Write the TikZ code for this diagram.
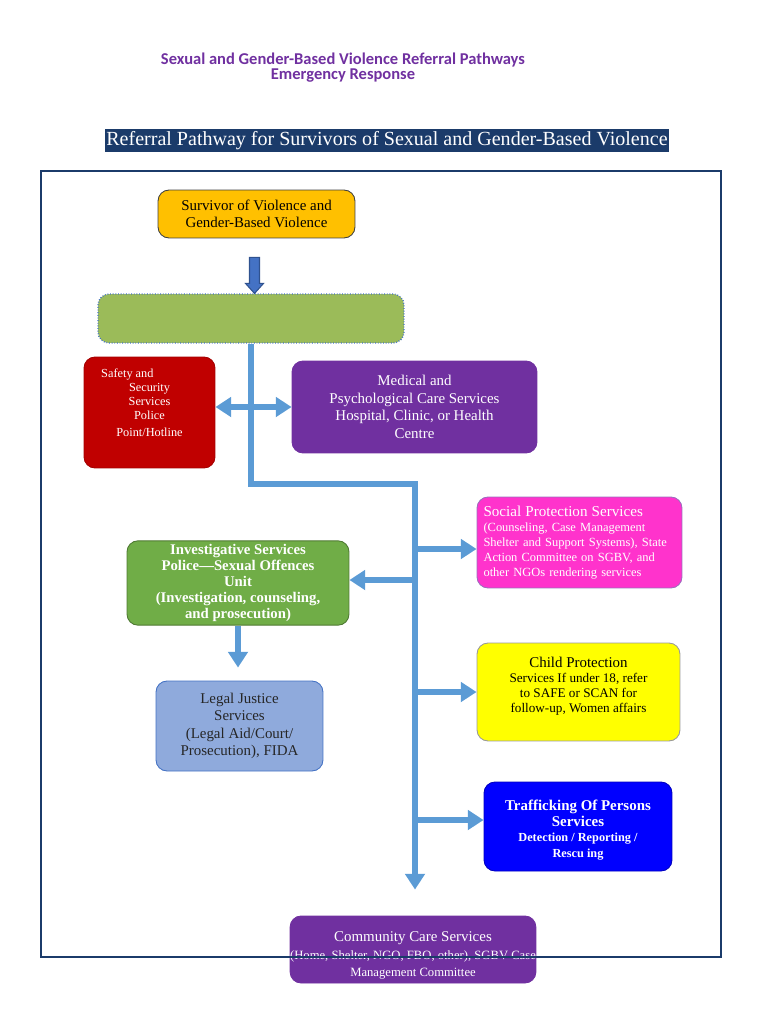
\documentclass[tikz,border=0pt]{standalone}
\usepackage{fontspec}
\setmainfont{Liberation Serif}
\newfontfamily\headfont{Carlito}
\usetikzlibrary{arrows.meta}
\usetikzlibrary{positioning}

\definecolor{navy}{HTML}{1B3B6A}
\definecolor{headpurple}{HTML}{7030A0}
\definecolor{spineblue}{HTML}{5B9BD5}
\definecolor{arrowblue}{HTML}{4472C4}
\definecolor{arrowedge}{HTML}{2F528F}
\definecolor{hubgreen}{HTML}{9BBB59}
\definecolor{survivororange}{HTML}{FFC000}
\definecolor{safetyred}{HTML}{C00000}
\definecolor{carepurple}{HTML}{7030A0}
\definecolor{socialpink}{HTML}{FF33CC}
\definecolor{investgreen}{HTML}{70AD47}
\definecolor{legalblue}{HTML}{8FAADC}
\definecolor{childyellow}{HTML}{FFFF00}
\definecolor{trafficblue}{HTML}{0000FF}

\begin{document}
\begin{tikzpicture}[x=0.02cm,y=-0.02cm,
    box/.style={rounded corners=0.22cm, align=center, inner sep=2pt, line width=0.5pt},
    spine/.style={draw=spineblue, line width=3.6pt},
    tip/.style={-{Triangle[length=9pt,width=11pt]}},
  ]
    \useasboundingbox (0,0) rectangle (768,1024);

    \node[text=headpurple, font=\headfont\bfseries\fontsize{9.4}{8.6}\selectfont, align=center] (head) at (343,68)
        {Sexual and Gender-Based Violence Referral Pathways\\Emergency Response};
    \node[fill=navy, text=white, minimum width=11.28cm, minimum height=0.46cm, inner sep=0pt,
        font=\fontsize{11.4}{12}\selectfont] (banner) at (387,140.5)
        {Referral Pathway for Survivors of Sexual and Gender-Based Violence};

    \node[box, fill=survivororange, draw=black!75, minimum width=3.94cm, minimum height=0.96cm,
        font=\fontsize{8.5}{10}\selectfont] (survivor) at (256.5,214)
        {Survivor of Violence and\\Gender-Based Violence};
    \coordinate (down) at ([xshift=-0.04cm,yshift=-0.38cm]survivor.south);
    \filldraw[fill=arrowblue, draw=arrowedge, line width=0.6pt, shift={(down)}]
        (-5,0) -- (5,0) -- (5,26) -- (9,26) -- (0,36) -- (-9,26) -- (-5,26) -- cycle;
    \node[box, fill=hubgreen, draw=arrowblue, densely dotted, line width=0.8pt,
        minimum width=6.12cm, minimum height=0.98cm] (hub) at (251,318.5) {};

    \node[box, fill=safetyred, draw=safetyred!85!black, text=white, minimum width=2.62cm, minimum height=2.22cm,
        font=\fontsize{7}{8}\selectfont] (safety) at (149.5,412.5)
        {\hspace*{-3.6em}Safety and\\Security\\Services\\Police\\[1.5pt]Point/Hotline\\[3.4pt]\mbox{}};
    \node[box, fill=carepurple, draw=carepurple, text=white, minimum width=4.9cm, minimum height=1.84cm,
        font=\fontsize{8.5}{10}\selectfont] (medical) at (414.5,407)
        {Medical and\\Psychological Care Services\\Hospital, Clinic, or Health\\Centre};

    \node[box, fill=socialpink, draw=headpurple!70, text=white, minimum width=4.1cm, minimum height=1.82cm,
        text width=3.84cm, align=left, font=\fontsize{7.1}{8.5}\selectfont] (social) at (579.5,542.5)
        {\makebox[\linewidth][s]{\fontsize{8.6}{8.6}\selectfont Social Protection Services}\\
         \makebox[\linewidth][s]{(Counseling, Case Management}\\
         \makebox[\linewidth][s]{Shelter and Support Systems), State}\\
         \makebox[\linewidth][s]{Action Committee on SGBV, and}\\
         other NGOs rendering services};
    \node[box, fill=investgreen, draw=investgreen!70!black, text=white, minimum width=4.44cm, minimum height=1.68cm,
        font=\bfseries\fontsize{8.4}{9.1}\selectfont] (investig) at (238,583)
        {Investigative Services\\Police---Sexual Offences\\Unit\\(Investigation, counseling,\\and prosecution)};
    \node[box, fill=legalblue, draw=arrowblue, text=black!85, minimum width=3.34cm, minimum height=1.8cm,
        font=\fontsize{8.5}{10}\selectfont] (legal) at (239.5,726)
        {Legal Justice\\Services\\(Legal Aid/Court/\\Prosecution), FIDA};
    \node[box, fill=childyellow, draw=black!40, minimum width=4.06cm, minimum height=1.96cm,
        font=\fontsize{7.5}{8.5}\selectfont] (child) at (578.5,692)
        {{\fontsize{8.5}{10}\selectfont Child Protection}\\Services If under 18, refer\\to SAFE or SCAN for\\follow-up, Women affairs\\\mbox{}};
    \node[box, fill=trafficblue, draw=trafficblue!75!black, text=white, minimum width=3.76cm, minimum height=1.78cm,
        font=\bfseries\fontsize{7}{9}\selectfont] (traffic) at (578,826.5)
        {\mbox{}\\[1pt]{\fontsize{8.5}{9.5}\selectfont Trafficking Of Persons}\\{\fontsize{8.5}{9.5}\selectfont Services}\\Detection / Reporting /\\Rescu ing};
    \node[box, fill=carepurple, draw=carepurple, text=white, minimum width=4.88cm, minimum height=1.34cm,
        inner xsep=0pt, inner ysep=0pt, font=\fontsize{7.2}{9.6}\selectfont] (community) at (413,949.5)
        {\mbox{}\\[3pt]{\fontsize{8.5}{10}\selectfont Community Care Services}\\[0.8pt](Home, Shelter, NGO, FBO, other), SGBV Case\\Management Committee};

    \draw[navy, line width=1.1pt] (41,171) rectangle (721,957);

    \coordinate (turn) at (415,484);
    \coordinate (b1) at (415,549);
    \coordinate (b2) at (415,580);
    \coordinate (b3) at (415,692);
    \coordinate (b4) at (415,820);
    \draw[spine, tip] (hub.south) |- (turn) -- ([yshift=0.52cm]turn |- community.north);
    \draw[spine, {Triangle[length=9pt,width=11pt]}-{Triangle[length=9pt,width=11pt]}]
        (medical.west -| safety.east) -- (medical.west);
    \draw[spine, tip] (b1) -- (b1 -| social.west);
    \draw[spine, tip] (b2) -- (b2 -| investig.east);
    \draw[spine, tip] (b3) -- (b3 -| child.west);
    \draw[spine, tip] (b4) -- (b4 -| traffic.west);
    \draw[spine, tip] (investig.south) -- ([yshift=0.26cm]legal.north -| investig.south);

\end{tikzpicture}
\end{document}
